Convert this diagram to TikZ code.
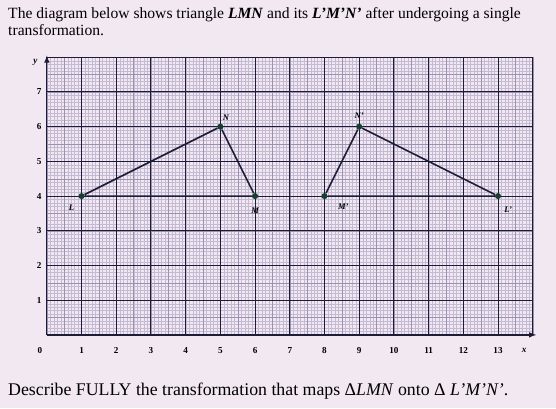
\documentclass[tikz,border=0pt]{standalone}
\usepackage{fontspec}
\setmainfont{Liberation Serif}
\usepackage{tikz}
\usetikzlibrary{positioning}

\definecolor{paper}{RGB}{242,232,242}
\definecolor{ink}{RGB}{28,28,55}
\definecolor{fine}{RGB}{196,186,212}

\tikzset{
    vtx/.style={circle, fill=ink!85!green, inner sep=0pt, minimum size=5pt},
    vlbl/.style={font=\bfseries\itshape\fontsize{7}{8}\selectfont, inner sep=1pt},
    num/.style={font=\bfseries\fontsize{7.5}{8}\selectfont, inner sep=1pt}
}

\begin{document}
\begin{tikzpicture}[x=1cm, y=1cm]

    \fill[paper] (-1.35,-2.11) rectangle (14.67,9.65);
    \useasboundingbox (-1.35,-2.11) rectangle (14.67,9.65);

    % graph paper
    \draw[fine, line width=0.2pt, step=0.1] (0,0) grid (14,8);
    \draw[fine!75!ink, line width=0.3pt, step=0.5] (0,0) grid (14,8);
    \draw[ink, line width=0.8pt, step=1] (0,0) grid (14,8);

    % axes
    \coordinate (O) at (0,0);
    \coordinate (xend) at (14.1,0);
    \coordinate (yend) at (0,8.05);
    \draw[ink, line width=1pt, -latex] (O) -- (xend);
    \draw[ink, line width=1pt, -latex] (O) -- (yend);
    \node[num] (xlbl) at (13.75,-0.45) {\itshape x};
    \node[num] (ylbl) at (-0.33,7.85) {\itshape y};

    \node[num] (x0) at (-0.2,-0.45) {0};
    \foreach \i in {1,...,13}
        \node[num] (x\i) at (\i,-0.45) {\i};
    \foreach \j in {1,...,7}
        \node[num] (y\j) at (-0.22,\j) {\j};

    % triangle LMN and its image
    \node[vtx] (L) at (1,4) {};
    \node[vtx] (M) at (6,4) {};
    \node[vtx] (N) at (5,6) {};
    \node[vtx] (Lp) at (13,4) {};
    \node[vtx] (Mp) at (8,4) {};
    \node[vtx] (Np) at (9,6) {};

    \path[draw, ink, line width=1.3pt]
    (L) -- (N)
    (N) -- (M)
    (M) -- (L)
    (Lp) -- (Np)
    (Np) -- (Mp)
    (Mp) -- (Lp);

    \node[vlbl, below left=4pt and 3pt of L] (Ll) {L};
    \node[vlbl, below=6pt of M] (Ml) {M};
    \node[vlbl, above right=2pt and -1pt of N] (Nl) {N};
    \node[vlbl, below right=3pt and 8pt of Mp] (Mpl) {M'};
    \node[vlbl, below right=6pt and 2pt of Lp] (Lpl) {L'};
    \node[vlbl, above=3pt of Np] (Npl) {N'};

    % question text
    \node[anchor=north west, align=left, inner sep=0pt,
          font=\fontsize{12.8}{13.4}\selectfont] (top) at (-1.12,9.43)
        {The diagram below shows triangle \textbf{\textit{LMN}} and its \textbf{\textit{L'M'N'}} after undergoing a single\\transformation.};
    \node[anchor=base west, inner sep=0pt,
          font=\fontsize{14.6}{16}\selectfont] (bottom) at (-1.12,-1.76)
        {Describe FULLY the transformation that maps Δ\textit{LMN} onto Δ \textit{L'M'N'}.};

\end{tikzpicture}
\end{document}
